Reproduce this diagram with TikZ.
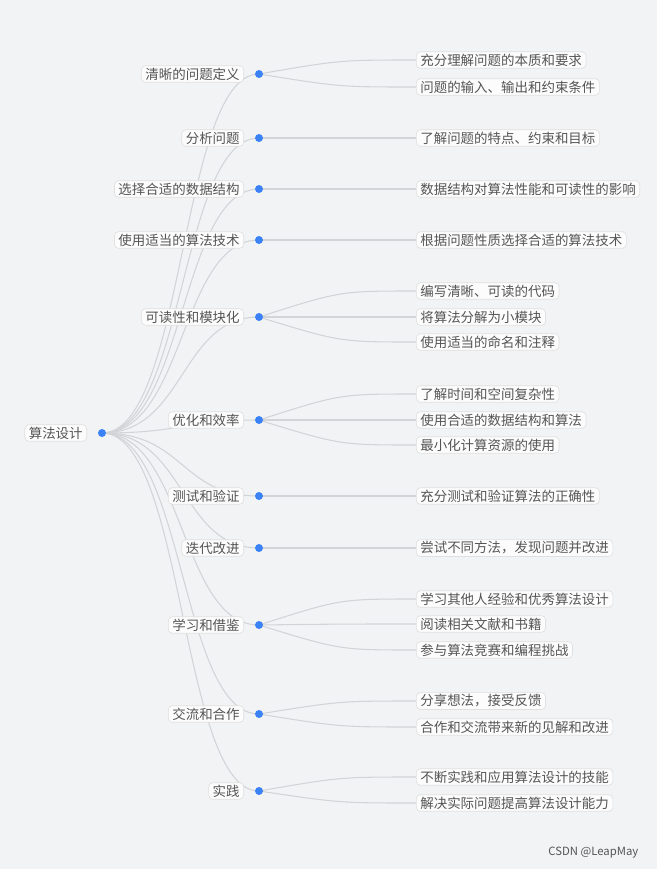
\documentclass[tikz,border=0pt]{standalone}
\usepackage{fontspec}
\setmainfont{Noto Sans CJK SC}
\pgfdeclarelayer{back}\pgfdeclarelayer{bg}\pgfsetlayers{back,bg,main}
\definecolor{bgc}{HTML}{F2F3F5}
\definecolor{txt}{HTML}{555555}
\definecolor{edge}{HTML}{D2D4D8}
\definecolor{dotc}{HTML}{3B82F6}
\tikzset{
 box/.style={draw=white!88!black,fill=white!75!bgc,rounded corners=3pt,text=txt,font=\fontsize{10.1pt}{11pt}\selectfont,inner xsep=3pt,inner ysep=1.5pt,line width=0.5pt},
 conn/.style={draw=edge,line width=0.8pt},
 dotn/.style={circle,fill=dotc,inner sep=0pt,minimum size=6pt}
}
\begin{document}
\begin{tikzpicture}[x=0.75pt,y=-0.75pt]
\begin{pgfonlayer}{back}
\fill[bgc] (0,0) rectangle (657,869);
\end{pgfonlayer}
\useasboundingbox (0,0) rectangle (657,869);
\node[box,anchor=east] (root) at (87,433) {算法设计};
\node[dotn] (rd) at (102,433) {};
\foreach \i/\y/\t in {1/74/清晰的问题定义,2/138/分析问题,3/189/选择合适的数据结构,4/240/使用适当的算法技术,5/317/可读性和模块化,6/420/优化和效率,7/496/测试和验证,8/548/迭代改进,9/625/学习和借鉴,10/714/交流和合作,11/791/实践}{
  \node[box,anchor=east] (l\i) at (244,\y) {\t};
  \node[dotn] (d\i) at (259,\y) {};
  \begin{pgfonlayer}{bg}
  \draw[conn] (rd.center) .. controls (185,433) and (180,\y) .. (d\i.center);
  \end{pgfonlayer}
}
\foreach \p/\j/\y/\t in {1/a/60/充分理解问题的本质和要求,1/b/87/问题的输入、输出和约束条件,2/a/138/了解问题的特点、约束和目标,3/a/189/数据结构对算法性能和可读性的影响,4/a/240/根据问题性质选择合适的算法技术,5/a/291/编写清晰、可读的代码,5/b/317/将算法分解为小模块,5/c/342/使用适当的命名和注释,6/a/394/了解时间和空间复杂性,6/b/420/使用合适的数据结构和算法,6/c/445/最小化计算资源的使用,7/a/496/充分测试和验证算法的正确性,8/a/548/尝试不同方法，发现问题并改进,9/a/599/学习其他人经验和优秀算法设计,9/b/624/阅读相关文献和书籍,9/c/650/参与算法竞赛和编程挑战,10/a/701/分享想法，接受反馈,10/b/727/合作和交流带来新的见解和改进,11/a/777/不断实践和应用算法设计的技能,11/b/803/解决实际问题提高算法设计能力}{
  \node[box,anchor=west] (c\p\j) at (416,\y) {\t};
  \begin{pgfonlayer}{bg}
  \draw[conn] (d\p.center) .. controls (340,\y-0) and (340,\y) .. (c\p\j.west);
  \end{pgfonlayer}
}
\node[anchor=east,text=txt,font=\fontsize{8.5pt}{10pt}\selectfont] (foot) at (643,853) {CSDN @LeapMay};
\end{tikzpicture}
\end{document}
